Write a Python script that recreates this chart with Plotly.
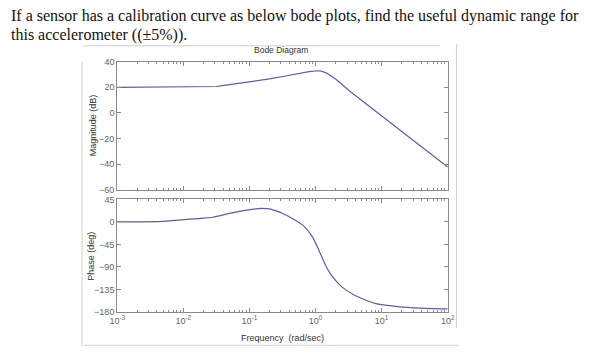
import plotly.graph_objects as go

W, H = 598, 359

# ---- data ----
mag_freq = [0.001, 0.01, 0.0316, 0.039, 0.063, 0.108, 0.2, 0.336, 0.593, 0.8,
            1.1, 1.26, 1.47, 2.06, 3.24, 8.0, 19.8, 49.0, 100.0]
mag_db = [20.0, 20.1, 20.6, 21.3, 22.7, 24.3, 26.5, 28.6, 31.1, 32.2,
          32.9, 32.4, 31.1, 26.1, 17.3, 1.5, -14.0, -30.0, -42.2]

ph_freq = [0.001, 0.005, 0.014, 0.028, 0.05, 0.108, 0.15, 0.21, 0.33, 0.46,
           0.65, 0.9, 1.12, 1.4, 1.75, 2.5, 3.9, 7.9, 17.7, 39.0, 100.0]
ph_deg = [0.0, 1.3, 6.0, 9.3, 17.0, 25.0, 27.0, 25.5, 16.0, 6.0,
          -7.0, -30.0, -56.0, -85.0, -107.0, -130.0, -146.5, -163.0, -169.5, -172.5, -174.0]

x_tickvals = [0.001, 0.01, 0.1, 1, 10, 100]
x_ticktext = ["10<sup>-3</sup>", "10<sup>-2</sup>", "10<sup>-1</sup>",
              "10<sup>0</sup>", "10<sup>1</sup>", "10<sup>2</sup>"]
mag_ticks = [-60, -40, -20, 0, 20, 40]
ph_ticks = [-180, -135, -90, -45, 0, 45]

line_color = "#5c5cae"
axis_color = "#8a8a8a"
tick_font = dict(family="Liberation Sans, Arial", size=9, color="#666666")


def px(x):
    return x / W


def py(y):
    return 1 - y / H


fig = go.Figure()
fig.add_trace(go.Scatter(x=mag_freq, y=mag_db, mode="lines",
                         line=dict(color=line_color, width=1.2),
                         xaxis="x", yaxis="y", showlegend=False, hoverinfo="skip"))
fig.add_trace(go.Scatter(x=ph_freq, y=ph_deg, mode="lines",
                         line=dict(color=line_color, width=1.2, shape="spline", smoothing=0.6),
                         xaxis="x2", yaxis="y2", showlegend=False, hoverinfo="skip"))

x_dom = [px(112), px(451)]
common_x = dict(type="log", range=[-3, 2], domain=x_dom, showline=True, linecolor=axis_color,
                linewidth=1, mirror="ticks", ticks="inside", ticklen=4, tickcolor=axis_color,
                tickvals=x_tickvals, showgrid=False, zeroline=False, tickfont=tick_font,
                minor=dict(ticks="inside", ticklen=2, tickcolor=axis_color, dtick="D1", showgrid=False))
common_y = dict(showline=True, linecolor=axis_color, linewidth=1, mirror="ticks",
                ticks="inside", ticklen=4, tickcolor=axis_color, showgrid=False,
                zeroline=False, tickfont=tick_font)

fig.update_layout(
    width=W, height=H,
    margin=dict(l=0, r=0, t=0, b=0),
    paper_bgcolor="white", plot_bgcolor="white",
    xaxis=dict(**common_x, anchor="y", showticklabels=False),
    yaxis=dict(**common_y, domain=[py(190), py(58.3)], range=[-60, 40],
               tickvals=mag_ticks, anchor="x"),
    xaxis2=dict(**common_x, anchor="y2", ticktext=x_ticktext),
    yaxis2=dict(**common_y, domain=[py(315.7), py(200)], range=[-180, 45],
                tickvals=ph_ticks, anchor="x2"),
)

serif = "Liberation Serif, Times New Roman, serif"
annotations = [
    dict(text="If a sensor has a calibration curve as below bode plots, find the useful dynamic range for",
         x=px(1), y=py(11), xanchor="left", yanchor="middle",
         font=dict(family=serif, size=16, color="#111")),
    dict(text="this accelerometer ((±5%)).", x=px(1), y=py(31), xanchor="left", yanchor="middle",
         font=dict(family=serif, size=16, color="#111")),
    dict(text="Bode Diagram", x=px(280), y=py(46), xanchor="center", yanchor="middle",
         font=dict(family="Liberation Sans, Arial", size=8.5, color="#333")),
    dict(text="Frequency  (rad/sec)", x=px(282), y=py(343), xanchor="center", yanchor="middle",
         font=dict(family="Liberation Sans, Arial", size=9, color="#333")),
    dict(text="Magnitude (dB)", x=px(87), y=py(124), xanchor="center", yanchor="middle",
         textangle=-90, font=dict(family="Liberation Sans, Arial", size=9, color="#333")),
    dict(text="Phase (deg)", x=px(85), y=py(258), xanchor="center", yanchor="middle",
         textangle=-90, font=dict(family="Liberation Sans, Arial", size=9, color="#333")),
]
for a in annotations:
    a.update(xref="paper", yref="paper", showarrow=False)
fig.update_layout(annotations=annotations)

frame_color = "#cfcfcf"
frame = [
    (77, 42, 443, 42),
    (76, 59, 76, 351),
    (78, 350, 462, 350),
    (460, 40, 460, 332),
]
fig.update_layout(shapes=[dict(type="line", xref="paper", yref="paper",
                               x0=px(a), y0=py(b), x1=px(c), y1=py(d),
                               line=dict(color=frame_color, width=1)) for a, b, c, d in frame])

fig.write_html("out.html", config={"displayModeBar": False},
               post_script="document.body.style.margin='0';")
